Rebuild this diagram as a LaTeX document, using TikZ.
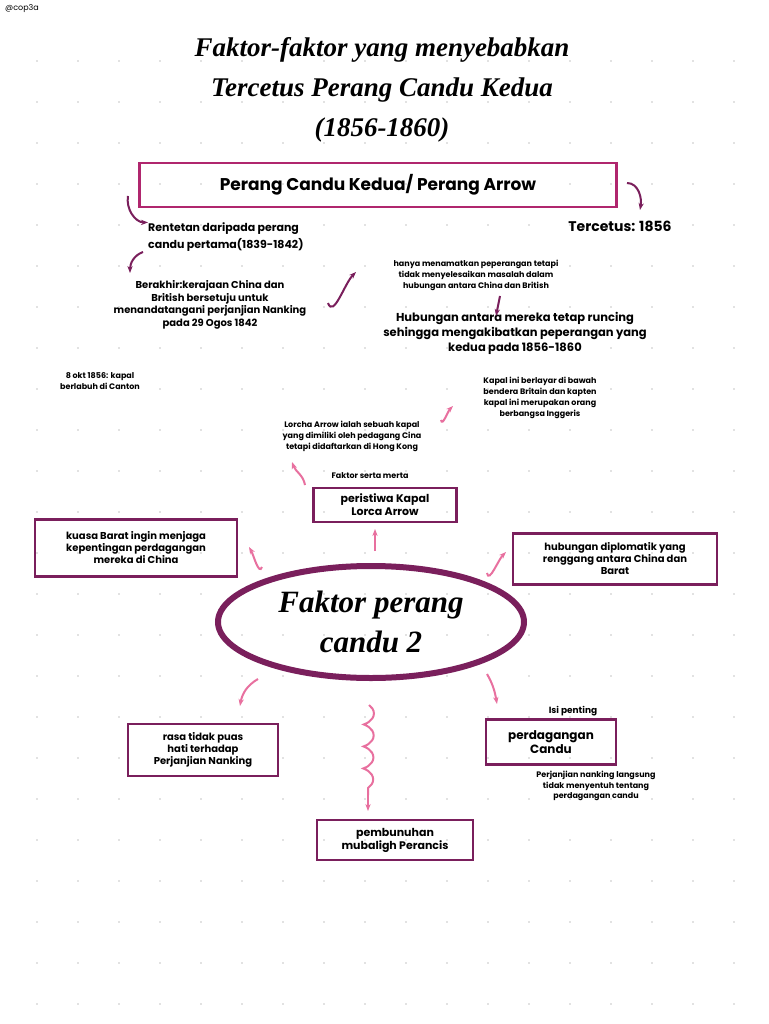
\documentclass[tikz,border=0pt]{standalone}
\usepackage{fontspec}
\setmainfont{Poppins}
\newfontfamily\ttl{Liberation Serif}
\usetikzlibrary{arrows.meta,decorations.pathmorphing,shapes.geometric}
\definecolor{dpur}{HTML}{7A1F5C}
\definecolor{mag}{HTML}{B0266E}
\definecolor{pnk}{HTML}{E8709F}
\tikzset{
 bx/.style={draw=dpur,line width=2.5pt,align=center,font=\bfseries\fontsize{11}{13}\selectfont,inner sep=0pt},
 tx/.style={align=center,inner sep=0pt},
 parr/.style={-{Stealth[length=7pt]},draw=dpur,line width=2pt},
 karr/.style={-{Stealth[length=7pt]},draw=pnk,line width=2pt},
}
\begin{document}
\begin{tikzpicture}[x=1pt,y=-1pt]
\useasboundingbox (0,0) rectangle (768,1024);
\fill[white] (0,0) rectangle (768,1024);
\foreach \i in {1,...,18}{\foreach \j in {1,...,24}{\fill[gray!45] (\i*41-4,\j*41+20) circle (0.9);}}
\node[tx,anchor=north west,font=\fontsize{8}{9}\selectfont] (tag) at (5,4) {@cop3a};
\node[tx,font=\ttl\bfseries\itshape\fontsize{27}{40}\selectfont] (title) at (382,90) {Faktor-faktor yang menyebabkan\\Tercetus Perang Candu Kedua\\(1856-1860)};
\node[draw=mag,line width=2.5pt,minimum width=477,minimum height=44,font=\bfseries\fontsize{17}{20}\selectfont] (top) at (378,185) {Perang Candu Kedua/ Perang Arrow};
\coordinate (a1) at (640,210);
\draw[parr] (627,183) to[out=0,in=80] (a1);
\node[tx,font=\bfseries\fontsize{14}{16}\selectfont] (terc) at (620,226) {Tercetus: 1856};
\node[tx,anchor=west,align=left,font=\bfseries\fontsize{11}{17}\selectfont] (rent) at (148,237) {Rentetan daripada perang\\candu pertama(1839-1842)};
\draw[parr] (128,196) to[out=-100,in=180] (rent.north west);
\coordinate (b1) at (130,273);
\draw[parr] (143,252) to[out=200,in=90] (b1);
\node[tx,font=\bfseries\fontsize{10}{12.5}\selectfont] (berak) at (210,305) {Berakhir:kerajaan China dan\\British bersetuju untuk\\menandatangani perjanjian Nanking\\pada 29 Ogos 1842};
\node[tx,font=\bfseries\fontsize{8}{11}\selectfont] (hanya) at (476,275) {hanya menamatkan peperangan tetapi\\tidak menyelesaikan masalah dalam\\hubungan antara China dan British};
\draw[parr] (328,303) to[out=-70,in=225] (356,272);
\node[tx,font=\bfseries\fontsize{11.5}{15}\selectfont] (hub) at (515,333) {Hubungan antara mereka tetap runcing\\sehingga mengakibatkan peperangan yang\\kedua pada 1856-1860};
\draw[parr] (500,296) -- (496,316);
\node[tx,font=\bfseries\fontsize{8}{11}\selectfont] (okt) at (100,381) {8 okt 1856: kapal\\berlabuh di Canton};
\node[tx,font=\bfseries\fontsize{8}{11}\selectfont] (kap) at (540,398) {Kapal ini berlayar di bawah\\bendera Britain dan kapten\\kapal ini merupakan orang\\berbangsa Inggeris};
\node[tx,font=\bfseries\fontsize{8}{11}\selectfont] (lor) at (352,436) {Lorcha Arrow ialah sebuah kapal\\yang dimiliki oleh pedagang Cina\\tetapi didaftarkan di Hong Kong};
\draw[karr] (441,420) to[out=-80,in=225] (453,406);
\node[tx,font=\bfseries\fontsize{8}{10}\selectfont] (fak) at (370,476) {Faktor serta merta};
\node[bx,minimum width=143,minimum height=34] (pk) at (385,505) {peristiwa Kapal\\Lorca Arrow};
\draw[karr] (305,485) to[out=100,in=-70] (292,462);
\node[bx,minimum width=202,minimum height=57,font=\bfseries\fontsize{10}{12}\selectfont] (kua) at (136,548) {kuasa Barat ingin menjaga\\kepentingan perdagangan\\mereka di China};
\node[bx,minimum width=204,minimum height=51,font=\bfseries\fontsize{10}{12}\selectfont] (dip) at (615,559) {hubungan diplomatik yang\\renggang antara China dan\\Barat};
\node[draw=dpur,line width=6pt,ellipse,minimum width=306,minimum height=112,font=\ttl\bfseries\itshape\fontsize{31}{40}\selectfont,align=center] (el) at (371,622) {Faktor perang\\candu 2};
\draw[karr] (375,551) -- (375,529);
\draw[karr] (262,567) to[out=-110,in=-60] (249,547);
\draw[karr] (487,573) to[out=-80,in=225] (506,552);
\node[bx,minimum width=150,minimum height=52,font=\bfseries\fontsize{10}{12}\selectfont] (ras) at (203,750) {rasa tidak puas\\hati terhadap\\Perjanjian Nanking};
\draw[karr] (258,679) to[out=210,in=80] (240,706);
\node[tx,font=\bfseries\fontsize{9}{10}\selectfont] (isi) at (573,711) {Isi penting};
\node[bx,minimum width=130,minimum height=45,font=\bfseries\fontsize{12}{14}\selectfont] (per) at (551,742) {perdagangan\\Candu};
\draw[karr] (487,674) to[out=-60,in=100] (497,704);
\node[tx,font=\bfseries\fontsize{8}{10.5}\selectfont] (pnk) at (596,786) {Perjanjian nanking langsung\\tidak menyentuh tentang\\perdagangan candu};
\node[bx,minimum width=156,minimum height=40] (pem) at (395,840) {pembunuhan\\mubaligh Perancis};
\draw[draw=pnk,line width=2pt,decoration={coil,aspect=0.6,segment length=22pt,amplitude=5pt},decorate] (369,705) -- (368,795);
\draw[karr] (368,795) -- (368,811);
\end{tikzpicture}
\end{document}
